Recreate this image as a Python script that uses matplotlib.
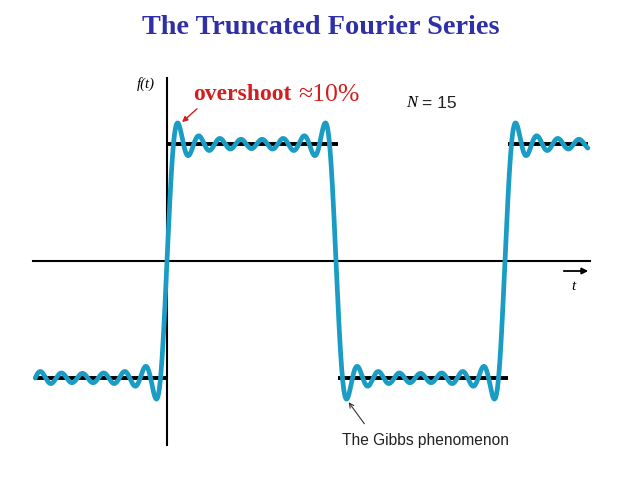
import numpy as np
import matplotlib
matplotlib.use("Agg")
import matplotlib.pyplot as plt

# odd harmonics kept in the truncated series (N = 15) and their sine amplitudes
harmonics = [1, 3, 5, 7, 9, 11, 13, 15]
amplitudes = [1.2732, 0.4244, 0.2546, 0.1819, 0.1415, 0.1157, 0.0979, 0.0849]

# ideal square-wave levels (t in half-periods)
level_start = [-0.78, 0.0, 1.01, 2.02]
level_end = [0.0, 1.01, 2.02, 2.49]
level_value = [-1, 1, -1, 1]

t_range = (-0.78, 2.49)

W, H = 638, 478
fig = plt.figure(figsize=(W / 100, H / 100), dpi=100)
ax = fig.add_axes([0, 0, 1, 1])

# pixel layout of the reference: t=0 at x=167, one half-period = 169 px, f=1 is 117 px
x0, xs = 167, 169
y0, ys = 261, 117
ax.set_xlim(-x0 / xs, (W - x0) / xs)
ax.set_ylim((y0 - H) / ys, y0 / ys)
ax.set_axis_off()


def px(x, y):
    return ((x - x0) / xs, (y0 - y) / ys)


# axes
ax.plot([px(33, 0)[0], px(590, 0)[0]], [0, 0], color="black", lw=1.5, zorder=1)
ax.plot([0, 0], [px(0, 78)[1], px(0, 445)[1]], color="black", lw=1.5, zorder=1)

# square wave levels
for a, b, v in zip(level_start, level_end, level_value):
    ax.plot([a, b], [v, v], color="black", lw=2.8, solid_capstyle="butt", zorder=2)

# truncated fourier sum
t = np.linspace(t_range[0], t_range[1], 3000)
f = np.zeros_like(t)
for k, b in zip(harmonics, amplitudes):
    f += b * np.sin(k * np.pi * t)
ax.plot(t, f, color="#1a9cc4", lw=3.4, zorder=3, solid_capstyle="round")

# title
fig.text(321 / W, 1 - 27 / H, "The Truncated Fourier Series", ha="center", va="center",
         family="Liberation Serif", weight="bold", fontsize=20.3, color="#2f2fa8")

# overshoot label + arrow
fig.text(193 / W, 1 - 95 / H, "overshoot", ha="left", va="center",
         family="Liberation Serif", weight="bold", fontsize=17, color="#d41e1e")
fig.text(298 / W, 1 - 95 / H, "\u224810%", ha="left", va="center",
         family="Liberation Serif", fontsize=18.5, color="#d41e1e")
ax.annotate("", xy=px(180, 124), xytext=px(199, 107),
            arrowprops=dict(arrowstyle="-|>", color="#d41e1e", lw=1, mutation_scale=8))

# axis labels
fig.text(146 / W, 1 - 84 / H, "f(t)", ha="center", va="center",
         family="Liberation Serif", style="italic", fontsize=10.5)
fig.text(573 / W, 1 - 287 / H, "t", ha="center", va="center",
         family="Liberation Serif", style="italic", fontsize=11)
ax.annotate("", xy=px(591, 271), xytext=px(561, 271),
            arrowprops=dict(arrowstyle="-|>", color="black", lw=1.3, mutation_scale=9))

# N = 15
fig.text(406 / W, 1 - 103 / H, "N", ha="left", va="center",
         family="Liberation Serif", style="italic", fontsize=12)
fig.text(422 / W, 1 - 103 / H, "= 15", ha="left", va="center",
         family="Liberation Sans", fontsize=12.5, color="#222222")

# gibbs note
fig.text(342 / W, 1 - 441 / H, "The Gibbs phenomenon", ha="left", va="center",
         family="Liberation Sans", fontsize=11.2, color="#222222")
ax.annotate("", xy=px(347, 400), xytext=px(366, 426),
            arrowprops=dict(arrowstyle="->", color="#333333", lw=0.8, mutation_scale=8))

fig.savefig("out.png", dpi=100, facecolor="white")
